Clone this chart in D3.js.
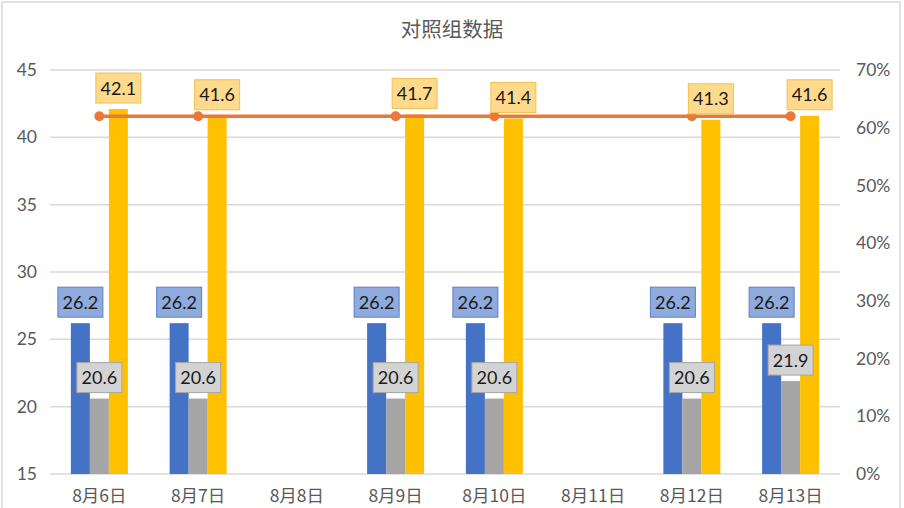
<!DOCTYPE html>
<html><head><meta charset="utf-8">
<script src="https://cdn.jsdelivr.net/npm/d3@7"></script>
<style>body{margin:0;background:#fff}svg{display:block}</style>
</head><body>
<svg id="c" width="904" height="508"></svg>
<script>
const categories = ["8月6日","8月7日","8月8日","8月9日","8月10日","8月11日","8月12日","8月13日"];
const seriesBlue = [26.2,26.2,null,26.2,26.2,null,26.2,26.2];
const seriesGray = [20.6,20.6,null,20.6,20.6,null,20.6,21.9];
const seriesYellow = [42.1,41.6,null,41.7,41.4,null,41.3,41.6];
const seriesRate = [0.62,0.62,null,0.62,0.62,null,0.62,0.62];
const leftTicks = [15,20,25,30,35,40,45];
const rightTicks = [0,0.1,0.2,0.3,0.4,0.5,0.6,0.7];
const title = "对照组数据";

const svg = d3.select("#c");
const W=904,H=508;
const m={l:50,r:840,t:70,b:474};
const numFont = "Lato, 'Noto Sans', sans-serif";
const cjkFont = "'Noto Sans CJK SC', 'Noto Sans', sans-serif";

svg.append("rect").attr("x",2).attr("y",2).attr("width",W-6).attr("height",H+10)
  .attr("fill","#fff").attr("stroke","#d9d9d9").attr("stroke-width",1.5);

const x = d3.scaleBand().domain(categories).range([m.l,m.r]);
const y = d3.scaleLinear().domain([15,45]).range([m.b,m.t]);
const y2 = d3.scaleLinear().domain([0,0.7]).range([m.b,m.t]);

// gridlines
svg.append("g").selectAll("line").data(leftTicks).join("line")
  .attr("x1",m.l).attr("x2",m.r).attr("y1",d=>y(d)).attr("y2",d=>y(d))
  .attr("stroke","#d9d9d9").attr("stroke-width",1.5);

// left axis
const gl = svg.append("g").attr("transform",`translate(37,0)`)
  .call(d3.axisLeft(y).tickValues(leftTicks).tickSize(0).tickPadding(0));
gl.select(".domain").remove();
gl.selectAll("text").attr("font-family",numFont).attr("font-size",17.5).attr("fill","#595959");

// right axis
const gr = svg.append("g").attr("transform",`translate(856,0)`)
  .call(d3.axisRight(y2).tickValues(rightTicks).tickFormat(d3.format(".0%")).tickSize(0).tickPadding(0));
gr.select(".domain").remove();
gr.selectAll("text").attr("font-family",numFont).attr("font-size",17.5).attr("fill","#595959");

// x axis
const gx = svg.append("g").attr("transform",`translate(0,${m.b})`)
  .call(d3.axisBottom(x).tickSize(0).tickPadding(16));
gx.select(".domain").remove();
gx.selectAll("text").attr("font-family",cjkFont).attr("font-size",17.5).attr("fill","#595959");

// title
svg.append("text").attr("x",W/2).attr("y",37).attr("text-anchor","middle")
  .attr("font-family",cjkFont).attr("font-size",20.5).attr("fill","#595959").text(title);

const bw = 19;
const series = [
  {vals:seriesBlue, off:-1, color:"#4472c4", lf:"#8faadc", ls:"#5b7fc6"},
  {vals:seriesGray, off:0, color:"#a5a5a5", lf:"#d3d3d3", ls:"#a5a5a5"},
  {vals:seriesYellow, off:1, color:"#ffc000", lf:"#ffd98c", ls:"#f0c050"}
];
const cx = (c,off)=> x(c)+x.bandwidth()/2 + off*bw;

series.forEach(s=>{
  const data = categories.map((c,i)=>({c,v:s.vals[i]})).filter(d=>d.v!=null);
  svg.append("g").selectAll("rect").data(data).join("rect")
    .attr("x",d=>cx(d.c,s.off)-bw/2).attr("width",bw)
    .attr("y",d=>y(d.v)).attr("height",d=>y(15)-y(d.v)).attr("fill",s.color);
});

// line
const lineData = categories.map((c,i)=>({c,v:seriesRate[i]})).filter(d=>d.v!=null);
svg.append("path").datum(lineData)
  .attr("d",d3.line().x(d=>cx(d.c,0)).y(d=>y2(d.v)))
  .attr("fill","none").attr("stroke","#e8793a").attr("stroke-width",3.5);
svg.append("g").selectAll("circle").data(lineData).join("circle")
  .attr("cx",d=>cx(d.c,0)).attr("cy",d=>y2(d.v)).attr("r",5).attr("fill","#e8793a");

// labels
series.forEach(s=>{
  const data = categories.map((c,i)=>({c,v:s.vals[i]})).filter(d=>d.v!=null);
  const g = svg.append("g").selectAll("g").data(data).join("g")
    .attr("transform",d=>`translate(${cx(d.c,s.off)},${y(d.v)-6})`);
  g.append("rect").attr("x",-22.5).attr("y",-30).attr("width",45).attr("height",30)
    .attr("fill",s.lf).attr("stroke",s.ls).attr("stroke-width",1);
  g.append("text").attr("x",0).attr("y",-8.5).attr("text-anchor","middle")
    .attr("font-family",numFont).attr("font-size",18).attr("fill","#1a1a1a")
    .text(d=>d.v.toFixed(1));
});
</script>
</body></html>
